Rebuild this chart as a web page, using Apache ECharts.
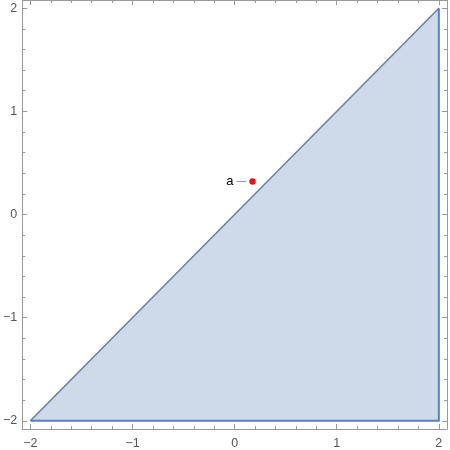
<!DOCTYPE html>
<html>
<head>
<meta charset="utf-8">
<script src="https://cdn.jsdelivr.net/npm/echarts@6/dist/echarts.min.js"></script>
<style>html,body{margin:0;padding:0;background:#fff}#c{width:450px;height:450px}</style>
</head>
<body>
<div id="c"></div>
<script>
const majorTicks = [-2, -1, 0, 1, 2];
const minorTicks = [-1.8, -1.6, -1.4, -1.2, -0.8, -0.6, -0.4, -0.2, 0.2, 0.4, 0.6, 0.8, 1.2, 1.4, 1.6, 1.8];
const triangleX = [-2, 2, 2];
const triangleY = [-2, 2, -2];
const pointName = ['a'];
const pointX = [0.175];
const pointY = [0.32];
const axisMin = -2.08, axisMax = 2.08;

const fmt = v => String(v).replace('-', '\u2212');
const frameColor = '#9a9a9a';
const labelStyle = {color: '#555', fontSize: 12.5, fontFamily: 'Liberation Sans, Arial, sans-serif'};

function axis(kind, pos, ticks, len, labels, line) {
  return {
    type: 'value', position: pos, min: axisMin, max: axisMax, gridIndex: 0,
    axisLine: {show: line, onZero: false, lineStyle: {color: frameColor, width: 1}},
    axisTick: {show: true, inside: true, length: len, customValues: ticks, lineStyle: {color: frameColor, width: 1}},
    axisLabel: labels ? Object.assign({show: true, customValues: majorTicks, formatter: fmt, margin: kind === 'x' ? 8 : 5}, labelStyle) : {show: false},
    splitLine: {show: false}
  };
}

const triData = triangleX.map((x, i) => [x, triangleY[i]]);
const ptData = pointX.map((x, i) => [x, pointY[i], pointName[i]]);

const chart = echarts.init(document.getElementById('c'), null, {renderer: 'canvas'});
chart.setOption({
  animation: false,
  grid: {left: 19, right: 3, top: 0, bottom: 21, containLabel: false},
  xAxis: [
    axis('x', 'bottom', majorTicks, 5, true, true),
    axis('x', 'bottom', minorTicks, 3, false, false),
    axis('x', 'top', majorTicks, 5, false, true),
    axis('x', 'top', minorTicks, 3, false, false)
  ],
  yAxis: [
    axis('y', 'left', majorTicks, 5, true, true),
    axis('y', 'left', minorTicks, 3, false, false),
    axis('y', 'right', majorTicks, 5, false, true),
    axis('y', 'right', minorTicks, 3, false, false)
  ],
  series: [
    {
      type: 'custom', xAxisIndex: 0, yAxisIndex: 0, clip: false,
      data: [0],
      renderItem: function (params, api) {
        const pts = triData.map(p => api.coord(p));
        return {
          type: 'group',
          children: [
            {type: 'polygon', shape: {points: pts}, style: {fill: 'rgba(94,129,181,0.3)', stroke: null}},
            {type: 'polyline', shape: {points: [pts[0], pts[1]]}, style: {stroke: '#6584a6', lineWidth: 1.6, fill: null}},
            {type: 'polyline', shape: {points: [pts[1], pts[2], pts[0]]}, style: {stroke: '#5b80bb', lineWidth: 2, fill: null}}
          ]
        };
      }
    },
    {
      type: 'custom', xAxisIndex: 0, yAxisIndex: 0, clip: false,
      data: ptData,
      renderItem: function (params, api) {
        const c = api.coord([api.value(0), api.value(1)]);
        return {
          type: 'group',
          children: [
            {type: 'line', shape: {x1: c[0] - 16, y1: c[1], x2: c[0] - 6, y2: c[1]}, style: {stroke: '#a0a0a0', lineWidth: 1}},
            {type: 'text', style: {text: ptData[params.dataIndex][2], x: c[0] - 19, y: c[1], align: 'right', verticalAlign: 'middle', fill: '#000', fontSize: 13, fontFamily: 'Liberation Sans, Arial, sans-serif'}},
            {type: 'circle', shape: {cx: c[0], cy: c[1], r: 3.2}, style: {fill: '#e3141b'}}
          ]
        };
      }
    }
  ]
});
</script>
</body>
</html>
